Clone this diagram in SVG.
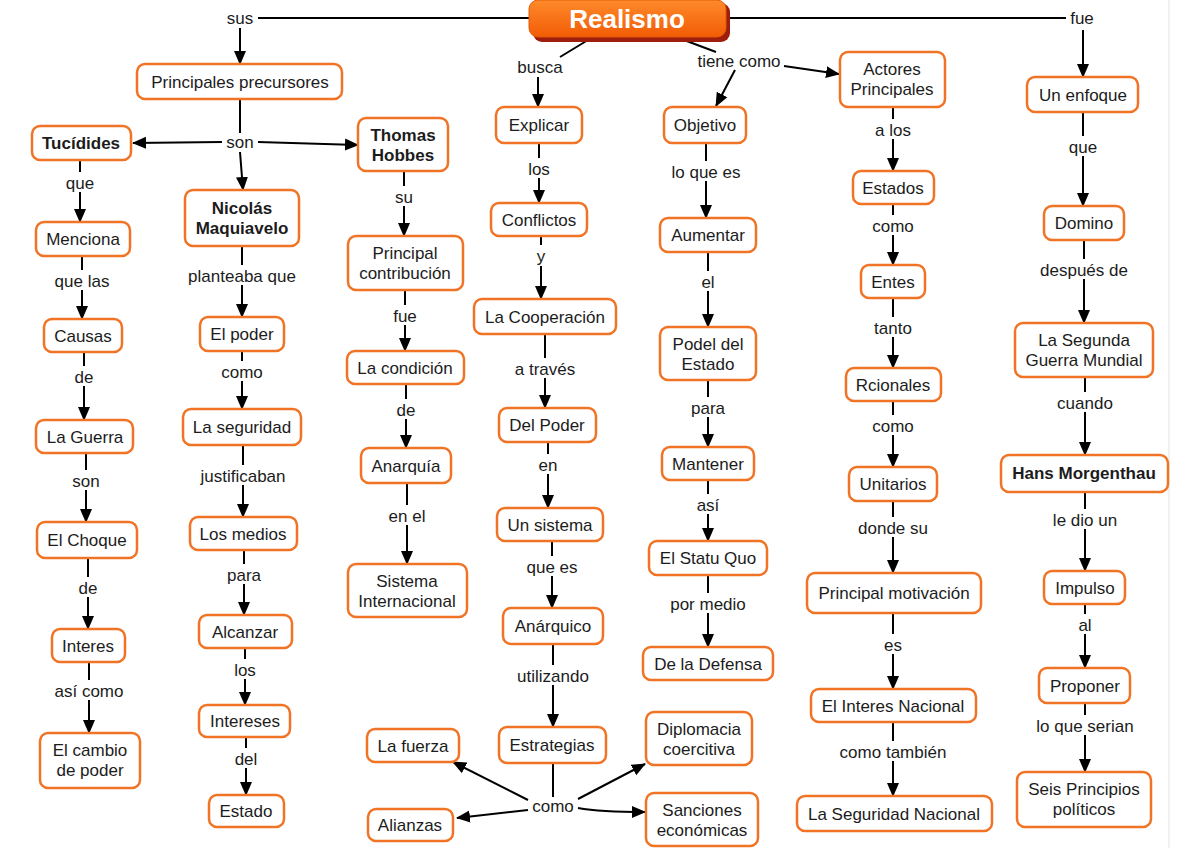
<svg xmlns="http://www.w3.org/2000/svg" width="1200" height="848" viewBox="0 0 1200 848">
<defs>
<marker id="ah" markerUnits="userSpaceOnUse" markerWidth="14" markerHeight="14" viewBox="0 0 14 14" refX="13" refY="7" orient="auto"><path d="M0,1 L14,7 L0,13 z" fill="#000"/></marker>
<linearGradient id="og" x1="0" y1="0" x2="0" y2="1"><stop offset="0" stop-color="#ff8a2a"/><stop offset="1" stop-color="#f25c05"/></linearGradient>
<style>
.n{fill:#fff;stroke:#f07326;stroke-width:2.5}
.t{font-family:"Liberation Sans",Arial,sans-serif;font-size:17px;fill:#1c1c1c;text-anchor:middle}
.b{font-weight:bold}
.c line,.c path{stroke:#000;stroke-width:2;fill:none}
.a{marker-end:url(#ah)}
</style>
</defs>
<rect width="1200" height="848" fill="#fff"/>
<line x1="1169" y1="0" x2="1169" y2="848" stroke="#ececec" stroke-width="1.5"/>
<g class="c" id="connectors">
<line x1="529" y1="18" x2="258" y2="18"/>
<line class="a" x1="240" y1="28" x2="240" y2="64"/>
<line x1="240" y1="99" x2="240" y2="133"/>
<line class="a" x1="222" y1="142" x2="133" y2="143"/>
<line class="a" x1="258" y1="142" x2="358" y2="145"/>
<line class="a" x1="240" y1="152" x2="243" y2="190"/>
<line x1="726" y1="18" x2="1066" y2="18"/>
<line class="a" x1="1083" y1="30" x2="1083" y2="77"/>
<line x1="588" y1="40" x2="560" y2="57"/>
<line class="a" x1="538" y1="77" x2="538" y2="107"/>
<line x1="684" y1="40" x2="716" y2="52"/>
<line class="a" x1="735" y1="70" x2="716" y2="106"/>
<line class="a" x1="784" y1="66" x2="839" y2="74"/>
<line x1="553" y1="763" x2="553" y2="797"/>
<line class="a" x1="528" y1="800" x2="453" y2="762"/>
<line class="a" x1="528" y1="810" x2="457" y2="818"/>
<line class="a" x1="578" y1="799" x2="645" y2="764"/>
<path class="a" d="M578,808 Q600,812 645,812"/>
<!-- vertical chains: src bottom -> label -> target -->
<path d="M80,160V172M80,192V222" class="a"/>
<path d="M82,256V270M82,290V319" class="a"/>
<path d="M84,352V366M84,386V420" class="a"/>
<path d="M86,453V470M86,490V522" class="a"/>
<path d="M88,558V577M88,597V629" class="a"/>
<path d="M89,662V680M89,700V733" class="a"/>
<path d="M242,246V265M242,285V317" class="a"/>
<path d="M242,351V361M242,381V409" class="a"/>
<path d="M243,445V465M243,485V517" class="a"/>
<path d="M244,550V564M244,584V615" class="a"/>
<path d="M245,648V659M245,679V705" class="a"/>
<path d="M246,737V748M246,768V795" class="a"/>
<path d="M404,171V186M404,206V236" class="a"/>
<path d="M405,290V305M405,325V351" class="a"/>
<path d="M406,384V399M406,419V448" class="a"/>
<path d="M407,483V505M407,525V564" class="a"/>
<path d="M539,143V158M539,178V203" class="a"/>
<path d="M541,236V245M541,266V299" class="a"/>
<path d="M545,334V358M545,378V408" class="a"/>
<path d="M548,442V454M548,474V508" class="a"/>
<path d="M552,541V556M552,576V608" class="a"/>
<path d="M553,644V665M553,685V727" class="a"/>
<path d="M706,143V161M706,181V218" class="a"/>
<path d="M708,252V271M708,291V327" class="a"/>
<path d="M708,380V397M708,417V447" class="a"/>
<path d="M708,480V494M708,514V541" class="a"/>
<path d="M708,575V593M708,613V647" class="a"/>
<path d="M893,107V119M893,139V171" class="a"/>
<path d="M893,204V215M893,235V265" class="a"/>
<path d="M893,298V317M893,337V368" class="a"/>
<path d="M893,401V415M893,435V467" class="a"/>
<path d="M893,501V517M893,537V573" class="a"/>
<path d="M893,613V634M893,654V689" class="a"/>
<path d="M893,722V741M893,761V796" class="a"/>
<path d="M1083,112V136M1083,156V206" class="a"/>
<path d="M1084,240V259M1084,279V323" class="a"/>
<path d="M1085,377V392M1085,412V455" class="a"/>
<path d="M1085,492V509M1085,529V571" class="a"/>
<path d="M1085,604V614M1085,634V668" class="a"/>
<path d="M1085,703V715M1085,735V772" class="a"/>
</g>
<g id="labels" class="t">
<text x="240" y="24">sus</text>
<text x="240" y="148">son</text>
<text x="1082" y="24">fue</text>
<text x="540" y="73">busca</text>
<text x="739" y="67">tiene como</text>
<text x="553" y="812">como</text>
<text x="80" y="189">que</text>
<text x="82" y="287">que las</text>
<text x="84" y="383">de</text>
<text x="86" y="487">son</text>
<text x="88" y="594">de</text>
<text x="89" y="697">así como</text>
<text x="242" y="282">planteaba que</text>
<text x="242" y="378">como</text>
<text x="243" y="482">justificaban</text>
<text x="244" y="581">para</text>
<text x="245" y="676">los</text>
<text x="246" y="765">del</text>
<text x="404" y="203">su</text>
<text x="405" y="322">fue</text>
<text x="406" y="416">de</text>
<text x="407" y="522">en el</text>
<text x="539" y="175">los</text>
<text x="541" y="262">y</text>
<text x="545" y="375">a través</text>
<text x="548" y="471">en</text>
<text x="552" y="573">que es</text>
<text x="553" y="682">utilizando</text>
<text x="706" y="178">lo que es</text>
<text x="708" y="288">el</text>
<text x="708" y="414">para</text>
<text x="708" y="511">así</text>
<text x="708" y="610">por medio</text>
<text x="893" y="136">a los</text>
<text x="893" y="232">como</text>
<text x="893" y="334">tanto</text>
<text x="893" y="432">como</text>
<text x="893" y="534">donde su</text>
<text x="893" y="651">es</text>
<text x="893" y="758">como también</text>
<text x="1083" y="153">que</text>
<text x="1084" y="276">después de</text>
<text x="1085" y="409">cuando</text>
<text x="1085" y="526">le dio un</text>
<text x="1085" y="631">al</text>
<text x="1085" y="732">lo que serian</text>
</g>
<g id="realismo">
<rect x="533" y="3" width="197" height="39" rx="9" fill="#9e1d0c"/>
<rect x="529" y="0" width="197" height="37" rx="9" fill="url(#og)" stroke="#e25a08" stroke-width="1"/>
<text x="627" y="28" class="t b" style="font-size:26px;fill:#fff">Realismo</text>
</g>
<g id="precursores"><rect class="n" x="137" y="64" width="205" height="35" rx="8"/><text class="t" x="240" y="88">Principales precursores</text></g>
<g id="tucidides"><rect class="n" x="32" y="126" width="99" height="34" rx="8"/><text class="t b" x="81" y="149">Tucídides</text></g>
<g id="maquiavelo"><rect class="n" x="185" y="190" width="114" height="56" rx="8"/><text class="t b" x="242" y="214">Nicolás</text><text class="t b" x="242" y="234">Maquiavelo</text></g>
<g id="hobbes"><rect class="n" x="358" y="118" width="90" height="53" rx="8"/><text class="t b" x="403" y="141">Thomas</text><text class="t b" x="403" y="161">Hobbes</text></g>
<g id="menciona"><rect class="n" x="36" y="222" width="94" height="34" rx="8"/><text class="t" x="83" y="245">Menciona</text></g>
<g id="causas"><rect class="n" x="44" y="319" width="78" height="33" rx="8"/><text class="t" x="83" y="342">Causas</text></g>
<g id="guerra"><rect class="n" x="36" y="420" width="97" height="33" rx="8"/><text class="t" x="85" y="443">La Guerra</text></g>
<g id="choque"><rect class="n" x="37" y="522" width="100" height="36" rx="8"/><text class="t" x="87" y="546">El Choque</text></g>
<g id="interes"><rect class="n" x="52" y="629" width="73" height="33" rx="8"/><text class="t" x="88" y="652">Interes</text></g>
<g id="cambio"><rect class="n" x="40" y="733" width="100" height="55" rx="8"/><text class="t" x="90" y="756">El cambio</text><text class="t" x="90" y="776">de poder</text></g>
<g id="elpoder"><rect class="n" x="200" y="317" width="84" height="34" rx="8"/><text class="t" x="242" y="340">El poder</text></g>
<g id="seguridad"><rect class="n" x="183" y="409" width="118" height="36" rx="8"/><text class="t" x="242" y="433">La seguridad</text></g>
<g id="medios"><rect class="n" x="190" y="517" width="107" height="33" rx="8"/><text class="t" x="243" y="540">Los medios</text></g>
<g id="alcanzar"><rect class="n" x="199" y="615" width="93" height="33" rx="8"/><text class="t" x="245" y="638">Alcanzar</text></g>
<g id="intereses"><rect class="n" x="199" y="705" width="91" height="32" rx="8"/><text class="t" x="245" y="727">Intereses</text></g>
<g id="estado"><rect class="n" x="209" y="795" width="75" height="32" rx="8"/><text class="t" x="246" y="817">Estado</text></g>
<g id="contribucion"><rect class="n" x="348" y="236" width="115" height="54" rx="8"/><text class="t" x="405" y="259">Principal</text><text class="t" x="405" y="279">contribución</text></g>
<g id="condicion"><rect class="n" x="347" y="351" width="117" height="33" rx="8"/><text class="t" x="405" y="374">La condición</text></g>
<g id="anarquia"><rect class="n" x="361" y="448" width="90" height="35" rx="8"/><text class="t" x="406" y="472">Anarquía</text></g>
<g id="sistemaint"><rect class="n" x="348" y="564" width="119" height="53" rx="8"/><text class="t" x="407" y="587">Sistema</text><text class="t" x="407" y="607">Internacional</text></g>
<g id="explicar"><rect class="n" x="496" y="107" width="86" height="36" rx="8"/><text class="t" x="539" y="131">Explicar</text></g>
<g id="conflictos"><rect class="n" x="491" y="203" width="96" height="33" rx="8"/><text class="t" x="539" y="226">Conflictos</text></g>
<g id="cooperacion"><rect class="n" x="474" y="299" width="142" height="35" rx="8"/><text class="t" x="545" y="323">La Cooperación</text></g>
<g id="delpoder"><rect class="n" x="499" y="408" width="97" height="34" rx="8"/><text class="t" x="547" y="431">Del Poder</text></g>
<g id="unsistema"><rect class="n" x="497" y="508" width="106" height="33" rx="8"/><text class="t" x="550" y="531">Un sistema</text></g>
<g id="anarquico"><rect class="n" x="503" y="608" width="100" height="36" rx="8"/><text class="t" x="553" y="632">Anárquico</text></g>
<g id="estrategias"><rect class="n" x="499" y="727" width="107" height="36" rx="8"/><text class="t" x="552" y="751">Estrategias</text></g>
<g id="fuerza"><rect class="n" x="367" y="729" width="92" height="33" rx="8"/><text class="t" x="413" y="752">La fuerza</text></g>
<g id="alianzas"><rect class="n" x="368" y="809" width="85" height="32" rx="8"/><text class="t" x="410" y="831">Alianzas</text></g>
<g id="diplomacia"><rect class="n" x="646" y="712" width="106" height="53" rx="8"/><text class="t" x="699" y="735">Diplomacia</text><text class="t" x="699" y="755">coercitiva</text></g>
<g id="sanciones"><rect class="n" x="646" y="793" width="112" height="53" rx="8"/><text class="t" x="702" y="816">Sanciones</text><text class="t" x="702" y="836">económicas</text></g>
<g id="objetivo"><rect class="n" x="664" y="107" width="82" height="36" rx="8"/><text class="t" x="705" y="131">Objetivo</text></g>
<g id="aumentar"><rect class="n" x="660" y="218" width="96" height="34" rx="8"/><text class="t" x="708" y="241">Aumentar</text></g>
<g id="podel"><rect class="n" x="660" y="327" width="96" height="53" rx="8"/><text class="t" x="708" y="350">Podel del</text><text class="t" x="708" y="370">Estado</text></g>
<g id="mantener"><rect class="n" x="662" y="447" width="92" height="33" rx="8"/><text class="t" x="708" y="470">Mantener</text></g>
<g id="statuquo"><rect class="n" x="649" y="541" width="118" height="34" rx="8"/><text class="t" x="708" y="564">El Statu Quo</text></g>
<g id="defensa"><rect class="n" x="643" y="647" width="130" height="33" rx="8"/><text class="t" x="708" y="670">De la Defensa</text></g>
<g id="actores"><rect class="n" x="840" y="52" width="105" height="55" rx="8"/><text class="t" x="892" y="75">Actores</text><text class="t" x="892" y="95">Principales</text></g>
<g id="estados"><rect class="n" x="853" y="171" width="81" height="33" rx="8"/><text class="t" x="893" y="194">Estados</text></g>
<g id="entes"><rect class="n" x="861" y="265" width="64" height="33" rx="8"/><text class="t" x="893" y="288">Entes</text></g>
<g id="rcionales"><rect class="n" x="846" y="368" width="95" height="33" rx="8"/><text class="t" x="893" y="391">Rcionales</text></g>
<g id="unitarios"><rect class="n" x="849" y="467" width="88" height="34" rx="8"/><text class="t" x="893" y="490">Unitarios</text></g>
<g id="motivacion"><rect class="n" x="807" y="573" width="174" height="40" rx="8"/><text class="t" x="894" y="599">Principal motivación</text></g>
<g id="interesnacional"><rect class="n" x="811" y="689" width="165" height="33" rx="8"/><text class="t" x="893" y="712">El Interes Nacional</text></g>
<g id="seguridadnacional"><rect class="n" x="797" y="796" width="195" height="35" rx="8"/><text class="t" x="894" y="820">La Seguridad Nacional</text></g>
<g id="enfoque"><rect class="n" x="1027" y="77" width="111" height="35" rx="8"/><text class="t" x="1083" y="101">Un enfoque</text></g>
<g id="domino"><rect class="n" x="1044" y="206" width="80" height="34" rx="8"/><text class="t" x="1084" y="229">Domino</text></g>
<g id="segunda"><rect class="n" x="1015" y="323" width="138" height="54" rx="8"/><text class="t" x="1084" y="346">La Segunda</text><text class="t" x="1084" y="366">Guerra Mundial</text></g>
<g id="morgenthau"><rect class="n" x="1001" y="455" width="167" height="37" rx="8"/><text class="t b" x="1084" y="479">Hans Morgenthau</text></g>
<g id="impulso"><rect class="n" x="1044" y="571" width="81" height="33" rx="8"/><text class="t" x="1085" y="594">Impulso</text></g>
<g id="proponer"><rect class="n" x="1039" y="668" width="91" height="35" rx="8"/><text class="t" x="1085" y="692">Proponer</text></g>
<g id="seis"><rect class="n" x="1017" y="772" width="134" height="55" rx="8"/><text class="t" x="1084" y="795">Seis Principios</text><text class="t" x="1084" y="815">políticos</text></g>
</svg>
